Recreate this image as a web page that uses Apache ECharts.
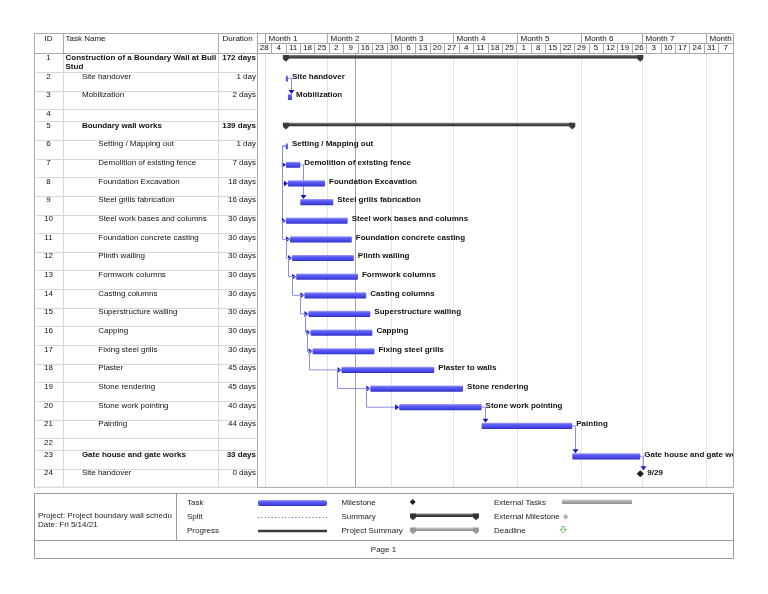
<!DOCTYPE html>
<html>
<head>
<meta charset="utf-8">
<script src="https://cdn.jsdelivr.net/npm/echarts@6/dist/echarts.min.js"></script>
<style>html,body{margin:0;padding:0;background:#fff}#chart{width:768px;height:594px}</style>
</head>
<body>
<div id="chart"></div>
<script>
// ---------------- DATA ----------------
const timelineStart = '2021-03-28';
const statusDate = '2021-05-14';

const taskIds = [1,2,3,4,5,6,7,8,9,10,11,12,13,14,15,16,17,18,19,20,21,22,23,24];
const taskNames = [
  'Construction of a Boundary Wall at Bull Stud',
  'Site handover',
  'Mobilization',
  '',
  'Boundary wall works',
  'Setting / Mapping out',
  'Demolition of existing fence',
  'Foundation Excavation',
  'Steel grills fabrication',
  'Steel work bases and columns',
  'Foundation concrete casting',
  'Plinth walling',
  'Formwork columns',
  'Casting columns',
  'Superstructure walling',
  'Capping',
  'Fixing steel grills',
  'Plaster',
  'Stone rendering',
  'Stone work pointing',
  'Painting',
  '',
  'Gate house and gate works',
  'Site handover'
];
const durationLabels = ['172 days','1 day','2 days','','139 days','1 day','7 days','18 days','16 days','30 days',
  '30 days','30 days','30 days','30 days','30 days','30 days','30 days','45 days','45 days','40 days','44 days','','33 days','0 days'];
const durationDays = [172,1,2,null,139,1,7,18,16,30,30,30,30,30,30,30,30,45,45,40,44,null,33,0];
const startDates = ['2021-04-11','2021-04-11','2021-04-12',null,'2021-04-11','2021-04-11','2021-04-11','2021-04-12',
  '2021-04-18','2021-04-11','2021-04-13','2021-04-14','2021-04-16','2021-04-20','2021-04-22','2021-04-23','2021-04-24',
  '2021-05-08','2021-05-22','2021-06-05','2021-07-15',null,'2021-08-28','2021-09-29'];
const taskKinds = ['project','task','task','blank','summary','task','task','task','task','task','task','task','task',
  'task','task','task','task','task','task','task','task','blank','phase','milestone'];
const outlineLevels = [0,1,1,0,1,2,2,2,2,2,2,2,2,2,2,2,2,2,2,2,2,0,1,1];
const barLabels = ['','Site handover','Mobilization','','','Setting / Mapping out','Demolition of existing fence',
  'Foundation Excavation','Steel grills fabrication','Steel work bases and columns','Foundation concrete casting',
  'Plinth walling','Formwork columns','Casting columns','Superstructure walling','Capping','Fixing steel grills',
  'Plaster to walls','Stone rendering','Stone work pointing','Painting','','Gate house and gate works','9/29'];

const linkFrom  = [2, 6, 6, 6, 7, 10, 11, 12, 13, 14, 15, 16, 17, 18, 19, 20, 21, 23];
const linkTo    = [3, 7, 8,10, 9, 11, 12, 13, 14, 15, 16, 17, 18, 19, 20, 21, 23, 24];
const linkTypes = ['FS','SS','SS','SS','FS','SS','SS','SS','SS','SS','SS','SS','SS','SS','SS','FS','FS','FS'];

const weekLabels = ['28','4','11','18','25','2','9','16','23','30','6','13','20','27','4','11','18','25',
  '1','8','15','22','29','5','12','19','26','3','10','17','24','31','7'];
const monthLabels = ['Month 1','Month 2','Month 3','Month 4','Month 5','Month 6','Month 7','Month 8'];
const monthStarts = ['2021-04-01','2021-05-01','2021-06-01','2021-07-01','2021-08-01','2021-09-01','2021-10-01','2021-11-01'];

// ---------------- LAYOUT ----------------
const FONT = '"Liberation Sans", Arial, Helvetica, sans-serif';
const FS = 8;
const DAY_MS = 86400000;
function parseD(s){ const p = s.split('-').map(Number); return Date.UTC(p[0], p[1]-1, p[2]); }
const T0 = parseD(timelineStart);
function dayOf(s){ return (parseD(s) - T0) / DAY_MS; }
const SPAN_DAYS = weekLabels.length * 7;

const ROW_H = 18.65, BLANK_H = 11.8;
const rowHeights = taskKinds.map(k => k === 'blank' ? BLANK_H : ROW_H);
const rowTops = []; let acc = 0;
rowHeights.forEach(h => { rowTops.push(acc); acc += h; });
const TABLE_H = acc;

const GRID_L = 257, GRID_W = 476, GRID_T = 53.5;
const GRID_B = GRID_T + TABLE_H;
const RIGHT = GRID_L + GRID_W;
const LEFT = 34.5;
const HDR_T = 33.5, HDR_MID = 43.5;
const COL_ID = 63.5, COL_DUR = 218.5, COL_GANTT = 257.5;
const FRAME = '#a9a9a9', ROWLINE = '#d9d9d9', MONTHLINE = '#e3e3e3';

function txt(bold, extra){
  return Object.assign({fontSize:FS, fontFamily:FONT, fontWeight: bold ? 'bold' : 'normal', fill:'#111'}, extra || {});
}

const mctx = document.createElement('canvas').getContext('2d');
function fitText(s, bold, maxW){
  mctx.font = (bold ? 'bold ' : '') + FS + 'px ' + FONT;
  while (s.length && mctx.measureText(s).width > maxW) s = s.slice(0, -1);
  return s.replace(/\s+$/, '');
}
function wrapText(s, bold, maxW){
  mctx.font = (bold ? 'bold ' : '') + FS + 'px ' + FONT;
  const words = s.split(' '); const lines = []; let cur = '';
  words.forEach(w => {
    const t = cur ? cur + ' ' + w : w;
    if (cur && mctx.measureText(t).width > maxW) { lines.push(cur); cur = w; } else cur = t;
  });
  if (cur) lines.push(cur);
  return lines.join('\n');
}
const idx = id => taskIds.indexOf(id);
function startDay(i){ return dayOf(startDates[i]); }
function endDay(i){ return taskKinds[i] === 'milestone' ? dayOf(startDates[i]) + 1 : dayOf(startDates[i]) + durationDays[i]; }
function barCenterOffset(i){
  const k = taskKinds[i];
  if (k === 'project' || k === 'summary') return 3.2;
  if (k === 'milestone') return 5;
  return 6.2;
}

const taskGrad = new echarts.graphic.LinearGradient(0,0,0,1,[
  {offset:0,color:'#a4a4fa'},{offset:0.3,color:'#5d5df3'},{offset:0.7,color:'#4848e6'},{offset:1,color:'#2e2ec2'}]);
const sumGrad = new echarts.graphic.LinearGradient(0,0,0,1,[
  {offset:0,color:'#8c8c8c'},{offset:0.5,color:'#4a4a4a'},{offset:1,color:'#2a2a2a'}]);
const projGrad = new echarts.graphic.LinearGradient(0,0,0,1,[
  {offset:0,color:'#d0d0d0'},{offset:0.5,color:'#a8a8a8'},{offset:1,color:'#8a8a8a'}]);

function summaryShape(x1, x2, yc, fill, capFill){
  return [
    {type:'rect', shape:{x:x1, y:yc-1.7, width:Math.max(0,x2-x1), height:3.4}, style:{fill:fill}},
    {type:'polygon', shape:{points:[[x1-3,yc-1.7],[x1+3,yc-1.7],[x1+3,yc+2.3],[x1,yc+5],[x1-3,yc+2.3]]}, style:{fill:capFill}},
    {type:'polygon', shape:{points:[[x2-3,yc-1.7],[x2+3,yc-1.7],[x2+3,yc+2.3],[x2,yc+5],[x2-3,yc+2.3]]}, style:{fill:capFill}}
  ];
}

// ---------------- STATIC FRAME / LEGEND ----------------
function L(x1,y1,x2,y2,c,w,dash){ return {type:'line', silent:true, shape:{x1,y1,x2,y2}, style:{stroke:c||FRAME, lineWidth:w||1, lineDash:dash||null}}; }
function T(x,y,text,opt){ opt = opt||{}; return {type:'text', silent:true, x, y, style:txt(opt.bold, Object.assign({text, verticalAlign:'middle', align:'left'}, opt.style||{}))}; }

const g = [];
g.push(L(LEFT, HDR_T, RIGHT+0.5, HDR_T));
g.push(L(LEFT, HDR_T, LEFT, GRID_B));
g.push(L(RIGHT+0.5, HDR_T, RIGHT+0.5, GRID_B));
g.push(L(LEFT, GRID_B, RIGHT+0.5, GRID_B));
g.push(L(COL_ID, HDR_T, COL_ID, GRID_B, ROWLINE));
g.push(L(COL_DUR, HDR_T, COL_DUR, GRID_B, ROWLINE));
g.push(L(COL_ID, HDR_T, COL_ID, GRID_T));
g.push(L(COL_DUR, HDR_T, COL_DUR, GRID_T));
g.push(L(COL_GANTT, HDR_T, COL_GANTT, GRID_B));
g.push(L(LEFT, GRID_T, COL_GANTT, GRID_T));
g.push(L(COL_GANTT, HDR_MID, RIGHT+0.5, HDR_MID));
g.push(T(48.5, 39, 'ID', {style:{align:'center'}}));
g.push(T(65.5, 39, 'Task Name'));
g.push(T(222.5, 39, 'Duration'));
const LG_T = 493.5, LG_B = 540.5, FT_B = 558.5;
g.push(L(LEFT, LG_T, RIGHT+0.5, LG_T, '#999'));
g.push(L(LEFT, LG_T, LEFT, FT_B, '#999'));
g.push(L(RIGHT+0.5, LG_T, RIGHT+0.5, FT_B, '#999'));
g.push(L(LEFT, LG_B, RIGHT+0.5, LG_B, '#999'));
g.push(L(LEFT, FT_B, RIGHT+0.5, FT_B, '#999'));
g.push(L(176.5, LG_T, 176.5, LG_B, '#999'));
g.push(T(38, 516, 'Project: Project boundary wall schedu', {style:{fill:'#222'}}));
g.push(T(38, 525, 'Date: Fri 5/14/21', {style:{fill:'#222'}}));
g.push(T(383.5, 549.5, 'Page 1', {style:{align:'center', fill:'#222'}}));
g.push(T(187, 503, 'Task', {style:{fill:'#222'}}));
g.push(T(187, 517, 'Split', {style:{fill:'#222'}}));
g.push(T(187, 531, 'Progress', {style:{fill:'#222'}}));
g.push({type:'rect', silent:true, shape:{x:258, y:500, width:69, height:6, r:2}, style:{fill:taskGrad}});
g.push(L(258, 517.5, 327, 517.5, '#4a4ae6', 1, [1, 2.4]));
g.push(L(258, 531, 327, 531, '#3a3a3a', 2.6));
g.push(T(341.5, 503, 'Milestone', {style:{fill:'#222'}}));
g.push(T(341.5, 517, 'Summary', {style:{fill:'#222'}}));
g.push(T(341.5, 531, 'Project Summary', {style:{fill:'#222'}}));
g.push({type:'polygon', silent:true, shape:{points:[[412.7,499],[415.7,502],[412.7,505],[409.7,502]]}, style:{fill:'#222'}});
summaryShape(413, 476, 515.3, sumGrad, '#333').forEach(e => { e.silent = true; g.push(e); });
summaryShape(413, 476, 529.3, projGrad, '#999').forEach(e => { e.silent = true; g.push(e); });
g.push(T(494, 503, 'External Tasks', {style:{fill:'#222'}}));
g.push(T(494, 517, 'External Milestone', {style:{fill:'#222'}}));
g.push(T(494, 531, 'Deadline', {style:{fill:'#222'}}));
g.push({type:'rect', silent:true, shape:{x:562, y:499.5, width:70, height:4.5, r:1}, style:{fill:projGrad}});
g.push({type:'polygon', silent:true, shape:{points:[[565.7,514],[568.4,516.7],[565.7,519.4],[563,516.7]]}, style:{fill:'#b0b0b0'}});
g.push({type:'polygon', silent:true, shape:{points:[[562,526.5],[564.6,526.5],[564.6,529.5],[566.6,529.5],[563.3,533],[560,529.5],[562,529.5]]}, style:{fill:'#fff', stroke:'#6fc46f', lineWidth:1}});

// ---------------- SERIES ----------------
const chart = echarts.init(document.getElementById('chart'));

const rowData = taskIds.map((id, i) => [0, rowTops[i], i]);
const barData = [];
taskIds.forEach((id, i) => { if (startDates[i]) barData.push([startDay(i), endDay(i), rowTops[i], i]); });
const linkData = linkFrom.map((f, k) => [k]);
const monthData = monthStarts.map((s, k) => [dayOf(s), k]);

const option = {
  animation: false,
  backgroundColor: '#ffffff',
  grid: {left: GRID_L, top: GRID_T, width: GRID_W, height: TABLE_H, containLabel: false},
  xAxis: [
    {type:'value', min:0, max:SPAN_DAYS, show:false},
    {type:'category', data:weekLabels, position:'top', boundaryGap:true,
     axisLine:{show:true, lineStyle:{color:FRAME}},
     axisTick:{show:true, interval:0, length:10, lineStyle:{color:FRAME}},
     axisLabel:{interval:0, fontSize:FS, color:'#111', margin:1.5, fontFamily:FONT},
     splitLine:{show:false}}
  ],
  yAxis: {type:'value', min:0, max:TABLE_H, inverse:true, show:false},
  graphic: {elements: g},
  series: [
    {
      type:'custom', name:'months', xAxisIndex:0, yAxisIndex:0, z:1, silent:true,
      data: monthData,
      renderItem(params, api){
        const k = api.value(1);
        const x = Math.round(api.coord([api.value(0), 0])[0]) + 0.5;
        const nextX = k + 1 < monthStarts.length ? api.coord([dayOf(monthStarts[k+1]), 0])[0] : RIGHT;
        const children = [
          {type:'line', shape:{x1:x, y1:HDR_T, x2:x, y2:HDR_MID}, style:{stroke:FRAME, lineWidth:1}},
          {type:'line', shape:{x1:x, y1:GRID_T+0.5, x2:x, y2:GRID_B-0.5}, style:{stroke:MONTHLINE, lineWidth:1}},
          {type:'text', x:x+3, y:39, style:txt(false, {text: fitText(monthLabels[k], false, Math.min(nextX, RIGHT) - x - 4), verticalAlign:'middle'})}
        ];
        if (k === 0) {
          const sx = Math.round(api.coord([dayOf(statusDate) + 0.6, 0])[0]) + 0.5;
          children.push({type:'line', shape:{x1:sx, y1:GRID_T+0.5, x2:sx, y2:GRID_B-0.5}, style:{stroke:'#a4a4a4', lineWidth:1}});
        }
        return {type:'group', children};
      }
    },
    {
      type:'custom', name:'table', xAxisIndex:0, yAxisIndex:0, z:5, silent:true,
      data: rowData,
      renderItem(params, api){
        const i = api.value(2);
        const top = api.value(1);
        const yTop = api.coord([0, top])[1];
        const yBot = Math.round(api.coord([0, top + rowHeights[i]])[1]) + 0.5;
        const bold = ['project','summary','phase'].indexOf(taskKinds[i]) >= 0;
        const nx = 65.5 + 16.4 * outlineLevels[i];
        const ty = yTop - 0.2;
        const children = [
          {type:'line', shape:{x1:LEFT, y1:yBot, x2:COL_GANTT, y2:yBot}, style:{stroke:ROWLINE, lineWidth:1}},
          {type:'text', x:48.5, y:ty, style:txt(false, {text:String(taskIds[i]), align:'center', verticalAlign:'top', lineHeight:9})},
          {type:'text', x:nx, y:ty, style:txt(bold, {text:wrapText(taskNames[i], bold, COL_DUR - nx - 2), align:'left', verticalAlign:'top', lineHeight:9})},
          {type:'text', x:256, y:ty, style:txt(bold, {text:durationLabels[i], align:'right', verticalAlign:'top', lineHeight:9})}
        ];
        return {type:'group', children};
      }
    },
    {
      type:'custom', name:'links', xAxisIndex:0, yAxisIndex:0, z:2, clip:true, silent:true,
      data: linkData,
      renderItem(params, api){
        const k = api.value(0);
        const p = idx(linkFrom[k]), s = idx(linkTo[k]);
        const yp = api.coord([0, rowTops[p] + barCenterOffset(p)])[1];
        const ys = api.coord([0, rowTops[s] + barCenterOffset(s)])[1];
        const lineStyle = {stroke:'#8e8eea', lineWidth:1, fill:null};
        const arrowStyle = {fill:'#1414c8'};
        const children = [];
        if (linkTypes[k] === 'FS') {
          const xe = api.coord([endDay(p), 0])[0];
          const xv = Math.round(xe + 3) + 0.5;
          const tip = ys - (taskKinds[s] === 'milestone' ? 3.6 : 3.1);
          children.push({type:'polyline', shape:{points:[[xe, yp], [xv, yp], [xv, tip - 3.5]]}, style:lineStyle});
          children.push({type:'polygon', shape:{points:[[xv-3, tip-4], [xv+3, tip-4], [xv, tip]]}, style:arrowStyle});
        } else {
          const xs = api.coord([startDay(p), 0])[0];
          const xt = api.coord([startDay(s), 0])[0];
          const xv = Math.round(xs - 4) + 0.5;
          children.push({type:'polyline', shape:{points:[[xs, yp], [xv, yp], [xv, ys], [xt - 3, ys]]}, style:lineStyle});
          children.push({type:'polygon', shape:{points:[[xt-4, ys-3], [xt-4, ys+3], [xt, ys]]}, style:arrowStyle});
        }
        return {type:'group', children};
      }
    },
    {
      type:'custom', name:'bars', xAxisIndex:0, yAxisIndex:0, z:3, clip:true, silent:true,
      encode: {x:[0,1], y:2},
      data: barData,
      renderItem(params, api){
        const i = api.value(3);
        const kind = taskKinds[i];
        const top = api.value(2);
        const x1 = api.coord([api.value(0), top])[0];
        const x2 = api.coord([api.value(1), top])[0];
        const yTop = api.coord([0, top])[1];
        const yc = yTop + barCenterOffset(i);
        let children = [];
        let lx = x2 + 4;
        if (kind === 'project' || kind === 'summary') {
          children = summaryShape(x1, x2, yc, sumGrad, '#3a3a3a');
        } else if (kind === 'milestone') {
          children.push({type:'polygon', shape:{points:[[x2, yc-3.6],[x2+3.6, yc],[x2, yc+3.6],[x2-3.6, yc]]}, style:{fill:'#1e1e1e'}});
          lx = x2 + 7;
        } else {
          children.push({type:'rect', shape:{x:x1, y:yc-3.1, width:Math.max(2, x2-x1), height:6.2, r:1}, style:{fill:taskGrad}});
        }
        if (barLabels[i]) {
          children.push({type:'text', x:lx, y:yTop + 4.3, style:txt(true, {text:barLabels[i], verticalAlign:'middle', align:'left'})});
        }
        return {type:'group', children};
      }
    }
  ]
};
chart.setOption(option);
</script>
</body>
</html>
